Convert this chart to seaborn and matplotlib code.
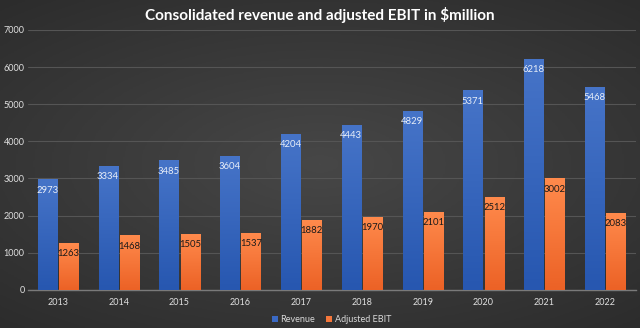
import matplotlib
matplotlib.use("Agg")
import matplotlib.pyplot as plt
import matplotlib.colors as mcolors
import seaborn as sns
import pandas as pd
import numpy as np

years = ["2013", "2014", "2015", "2016", "2017", "2018", "2019", "2020", "2021", "2022"]
revenue = [2973, 3334, 3485, 3604, 4204, 4443, 4829, 5371, 6218, 5468]
ebit = [1263, 1468, 1505, 1537, 1882, 1970, 2101, 2512, 3002, 2083]
series_names = ["Revenue", "Adjusted EBIT"]

df = pd.DataFrame({
    "year": years * 2,
    "value": revenue + ebit,
    "series": [series_names[0]] * len(years) + [series_names[1]] * len(years),
})

sns.set_theme(style="dark")
plt.rcParams["font.family"] = ["Lato", "DejaVu Sans"]

fig = plt.figure(figsize=(6.4, 3.28), dpi=100)
# background gradient
bg = fig.add_axes([0, 0, 1, 1], zorder=-10)
yy, xx = np.mgrid[-1:1:200j, -1:1:400j]
r = np.sqrt((xx * 0.8) ** 2 + (yy * 0.9) ** 2)
bg.imshow(r, cmap=mcolors.LinearSegmentedColormap.from_list("g", ["#474747", "#2a2a2a"]),
          aspect="auto", extent=[0, 1, 0, 1], vmin=0, vmax=1.3)
bg.axis("off")

ax = fig.add_axes([0.043, 0.116, 0.950, 0.793])
ax.set_facecolor("none")
palette = {"Revenue": "#3a69c4", "Adjusted EBIT": "#f5773b"}
sns.barplot(data=df, x="year", y="value", hue="series", palette=palette, width=0.7, gap=0.1,
            ax=ax, saturation=1, edgecolor="none", zorder=3)

ax.set_ylim(0, 7000)
ax.set_xlim(-0.5, 9.5)
ax.set_yticks(range(0, 7001, 1000))
ax.grid(axis="y", color="#555555", linewidth=0.8, zorder=0)
ax.grid(axis="x", visible=False)
for s in ["top", "right", "left"]:
    ax.spines[s].set_visible(False)
ax.spines["bottom"].set_color("#7a7a7a")
ax.spines["bottom"].set_linewidth(1)
ax.tick_params(axis="both", colors="#e0e0e0", labelsize=6.5, length=0, pad=6)
ax.tick_params(axis="y", pad=2)
ax.set_xlabel("")
ax.set_ylabel("")

grads = [
    mcolors.LinearSegmentedColormap.from_list("b", ["#2757b0", "#4674c8"]),
    mcolors.LinearSegmentedColormap.from_list("o", ["#ec6226", "#ff8a4c"]),
]
gimg = np.linspace(0, 1, 64).reshape(-1, 1)
for i, cont in enumerate(ax.containers):
    for bar in cont:
        x0, w, h = bar.get_x(), bar.get_width(), bar.get_height()
        im = ax.imshow(gimg, cmap=grads[i], origin="lower", aspect="auto",
                       extent=[x0, x0 + w, 0, h], zorder=3.5)
        im.set_clip_path(bar)
    color = "#e8eef8" if i == 0 else "#1a1a1a"
    ax.bar_label(cont, labels=[f"{int(b.get_height())}" for b in cont], padding=-11,
                 fontsize=6.8, color=color, zorder=5)
ax.set_xlim(-0.5, 9.5)
ax.set_ylim(0, 7000)
ax.set_aspect("auto")

ax.legend(loc="upper center", bbox_to_anchor=(0.5, -0.065), ncol=2, frameon=False,
          fontsize=6.5, labelcolor="#d9d9d9", handlelength=0.7, handleheight=0.7,
          handletextpad=0.3, columnspacing=1.2)

fig.text(0.5, 0.955, "Consolidated revenue and adjusted EBIT in $million", ha="center", va="center",
         fontsize=11, fontweight="bold", color="white")

fig.savefig("out.png", dpi=100)
